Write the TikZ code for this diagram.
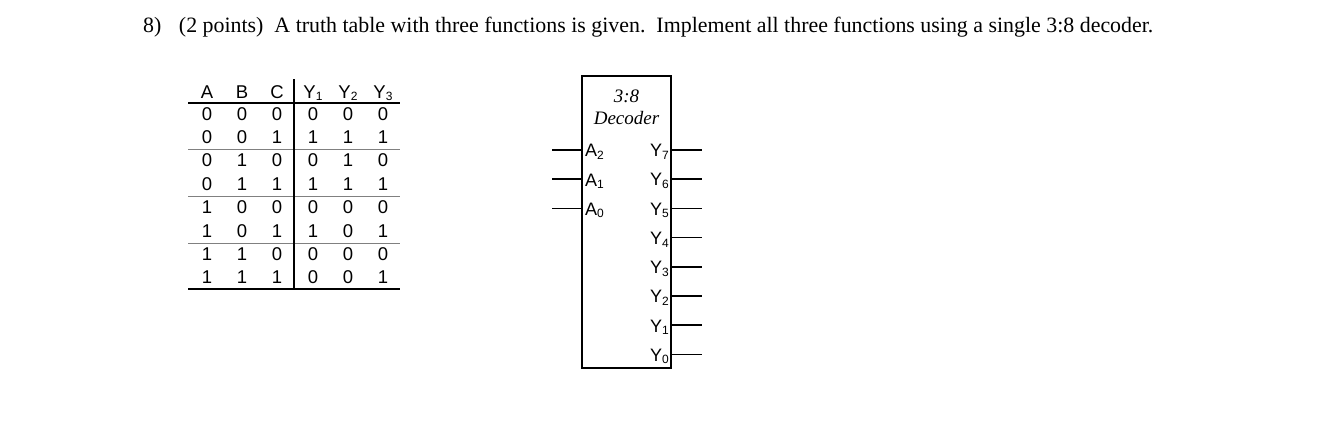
\documentclass[tikz,border=0pt]{standalone}
\usepackage{fontspec}
\setmainfont{Liberation Serif}
\newfontfamily\tsans{Liberation Sans}
\newcommand{\sbs}[1]{\raisebox{-0.15em}{\fontsize{12}{12}\selectfont #1}}
\begin{document}
\begin{tikzpicture}[x=1pt,y=-1pt,
  cell/.style={font=\tsans\fontsize{18.5}{18}\selectfont,inner sep=0pt,anchor=base},
  thick rule/.style={line width=1.7pt},
  thin rule/.style={line width=0.6pt,gray},
  pin/.style={line width=1.6pt},
  plab/.style={font=\tsans\fontsize{18}{18}\selectfont,inner sep=0pt}]
\useasboundingbox (0,0) rectangle (1320,426);
\node[anchor=base west,inner sep=0pt,font=\fontsize{21.9}{22}\selectfont] (title) at (143,32) {8)\hspace{0.8em}(2 points)\ \ A truth table with three functions is given.\ \ Implement all three functions using a single 3:8 decoder.};
% table
\foreach \x/\t [count=\i] in {207/A,242/B,277/C,313/Y\sbs{1},348/Y\sbs{2},383/Y\sbs{3}}
  \node[cell] (h\i) at (\x,98) {\t};
\draw[thick rule] (188,103) -- (400,103);
\draw[thin rule] (188,149) -- (400,149) (188,196) -- (400,196) (188,243) -- (400,243);
\draw[thick rule] (188,289) -- (400,289);
\draw[line width=1.4pt] (294,79) -- (294,289);
\foreach \r [count=\j] in {{0,0,0,0,0,0},{0,0,1,1,1,1},{0,1,0,0,1,0},{0,1,1,1,1,1},{1,0,0,0,0,0},{1,0,1,1,0,1},{1,1,0,0,0,0},{1,1,1,0,0,1}}{
  \foreach \v [count=\k] in \r {
    \pgfmathsetmacro\xx{{207,242,277,313,348,383}[\k-1]}
    \node[cell] (c\j\k) at (\xx,{120+(\j-1)*23.4}) {\v};
  }
}
% decoder
\draw[line width=1.5pt] (582,76) rectangle (671,368);
\node[font=\itshape\fontsize{19}{19}\selectfont,inner sep=0pt] (t1) at (626.5,96) {3:8};
\node[font=\itshape\fontsize{19}{19}\selectfont,inner sep=0pt] (t2) at (626.5,118) {Decoder};
\foreach \n [count=\i] in {2,1,0}{
  \pgfmathsetmacro\yy{150+(\i-1)*29.2}
  \coordinate (ai\n) at (582,\yy);
  \coordinate (ao\n) at (552,\yy);
  \draw[pin] (ao\n) -- (ai\n);
  \node[plab,anchor=west] (al\n) at (585,\yy+2) {A\sbs{\n}};
}
\foreach \n [count=\i] in {7,6,5,4,3,2,1,0}{
  \pgfmathsetmacro\yy{150+(\i-1)*29.2}
  \coordinate (yi\n) at (671,\yy);
  \coordinate (yo\n) at (702,\yy);
  \draw[pin] (yi\n) -- (yo\n);
  \node[plab,anchor=east] (yl\n) at (669,\yy+2) {Y\sbs{\n}};
}
\end{tikzpicture}
\end{document}
